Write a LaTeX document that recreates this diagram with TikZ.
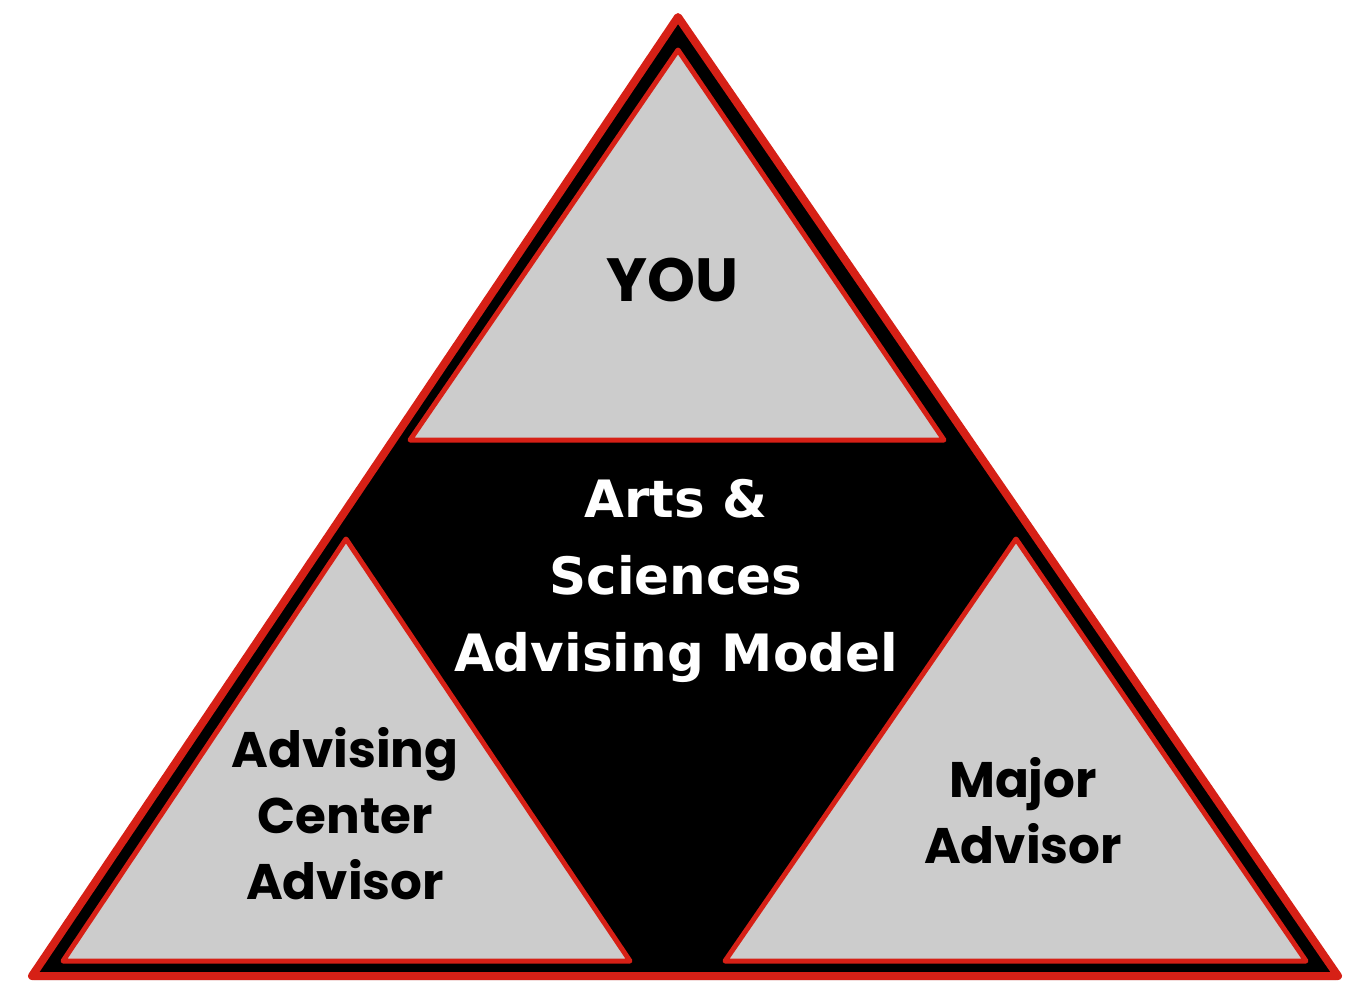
\documentclass[tikz,border=0pt]{standalone}
\usepackage{fontspec}
\newfontfamily\popfont{Poppins}
\newfontfamily\dejafont{DejaVu Sans}
\usetikzlibrary{positioning}
\definecolor{modelred}{RGB}{214,32,22}
\definecolor{modelgray}{RGB}{204,204,204}

\begin{document}
\begin{tikzpicture}[x=1pt, y=-1pt,
    every node/.style={
        align=center,
        inner sep=0pt
    },
    outerpart/.style={draw=modelred, line width=8pt, line join=round, fill=black},
    innerpart/.style={draw=modelred, line width=5pt, line join=round, fill=modelgray},
    darklabel/.style={text=black, font=\popfont\bfseries\fontsize{50}{66}\selectfont},
    lightlabel/.style={text=white, font=\dejafont\bfseries\fontsize{51.5}{77}\selectfont}
]

\useasboundingbox (0,0) rectangle (1355,999);

    \coordinate (outer_top) at (678,17);
    \coordinate (outer_left) at (32,976);
    \coordinate (outer_right) at (1338,976);

    \coordinate (you_top) at (678,50);
    \coordinate (you_left) at (410,440);
    \coordinate (you_right) at (944,440);

    \coordinate (center_top) at (346,539);
    \coordinate (center_left) at (63,961);
    \coordinate (center_right) at (630,961);

    \coordinate (major_top) at (1016,539);
    \coordinate (major_left) at (725,961);
    \coordinate (major_right) at (1306,961);


    \fill[black!20] ([xshift=2pt, yshift=-4pt]outer_left) -- ([xshift=-2pt, yshift=-4pt]outer_right) -- ([yshift=-2pt]outer_right) -- ([yshift=-2pt]outer_left) -- cycle;
    \draw[outerpart] (outer_top) -- (outer_left) -- (outer_right) -- cycle;

    \draw[innerpart] (you_top) -- (you_left) -- (you_right) -- cycle;
    \draw[innerpart] (center_top) -- (center_left) -- (center_right) -- cycle;
    \draw[innerpart] (major_top) -- (major_left) -- (major_right) -- cycle;



    \node (you_label) [darklabel, font=\popfont\bfseries\fontsize{61}{61}\selectfont, shift={(679,280)}]
    {
        YOU
    };

    \node (model_label) [lightlabel, shift={(676,581)}]
    {
        Arts \&\\ Sciences\\ Advising Model
    };

    \node (center_label) [darklabel, shift={(345,814)}]
    {
        Advising\\ Center\\ Advisor
    };

    \node (major_label) [darklabel, shift={(1023,811)}]
    {
        Major\\ Advisor
    };


\end{tikzpicture}
\end{document}
